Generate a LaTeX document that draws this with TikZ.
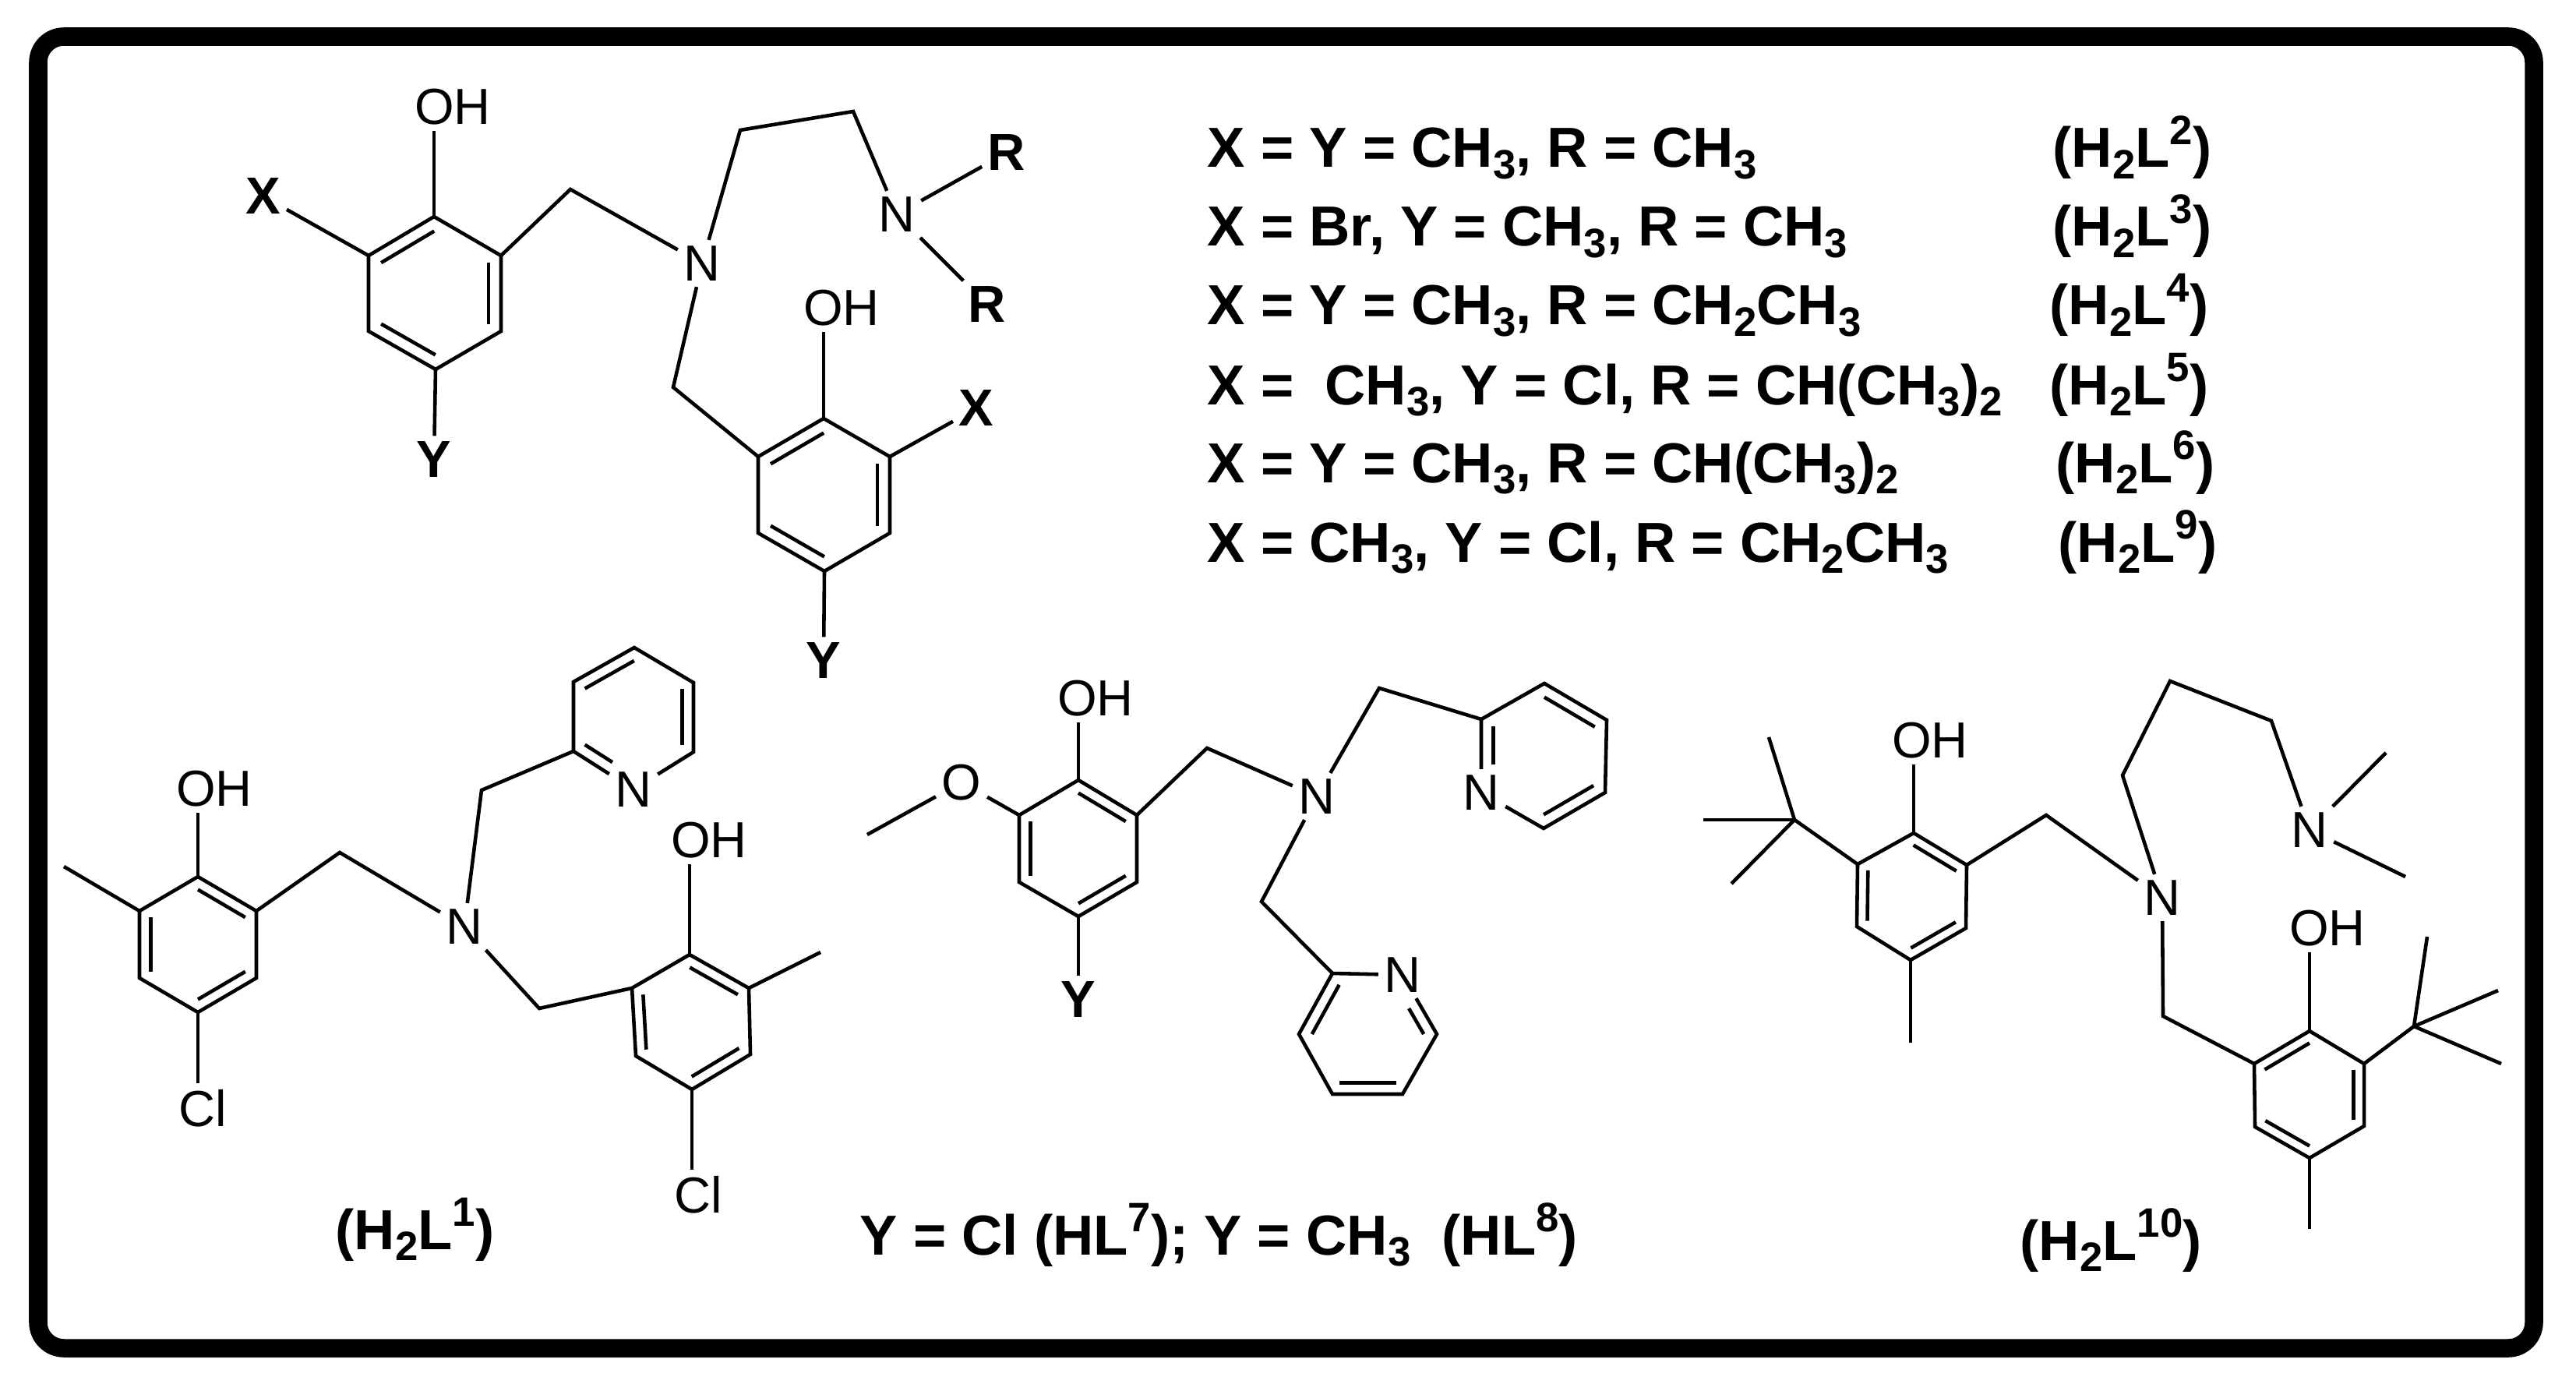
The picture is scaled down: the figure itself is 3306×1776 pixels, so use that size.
\documentclass[tikz,border=0pt]{standalone}
\usepackage{fontspec}
\setmainfont{Liberation Sans}
\usetikzlibrary{calc}

\newcommand{\lo}[1]{\raisebox{-4.2pt}{\fontsize{15}{15}\selectfont #1}}
\newcommand{\hi}[1]{\raisebox{8.4pt}{\fontsize{15}{15}\selectfont #1}}
\newcommand{\dbl}[4][]{\draw[bond,#1] ($(#2)!.19!(#4)$) -- ($(#3)!.19!(#4)$);}

\begin{document}
\begin{tikzpicture}
	[x=.01cm,y=-.01cm,
	bond/.style={line width=1.3pt,line join=miter},
	atom/.style={inner sep=2pt,font=\fontsize{18.5}{18.5}\selectfont},
	sub/.style={inner sep=2pt,font=\fontsize{19}{19}\selectfont\bfseries},
	listtext/.style={anchor=base west,inner sep=0pt,font=\fontsize{20.6}{20.6}\selectfont\bfseries}]
	\useasboundingbox (0,0) rectangle (3306,1776);
	\draw[line width=.235cm,rounded corners=.33cm] (49,47) rectangle (3252,1730);
	
	% top structure
	\coordinate (a1) at (557,278); \coordinate (a2) at (643,328); \coordinate (a3) at (643,425);
	\coordinate (a4) at (559,474); \coordinate (a5) at (473,425); \coordinate (a6) at (473,328);
	\coordinate (ac) at ($(a1)!.5!(a4)$);
	\coordinate (b1) at (1057,537); \coordinate (b2) at (1142,586); \coordinate (b3) at (1142,684);
	\coordinate (b4) at (1058,733); \coordinate (b5) at (973,684); \coordinate (b6) at (973,586);
	\coordinate (bc) at ($(b1)!.5!(b4)$);
	\coordinate (t1) at (732,243);
	\coordinate (t2) at (950,167);
	\coordinate (t3) at (1095,143);
	\coordinate (t4) at (864,497);
	\node[atom] (oha) at (581,137) {OH};
	\node[atom] (ohb) at (1080,395) {OH};
	\node[atom] (na) at (901,338) {N};
	\node[atom] (nb) at (1151,275) {N};
	\node[sub] (xa) at (338,252) {X};
	\node[sub] (xb) at (1253,524) {X};
	\node[sub] (ya) at (557,590) {Y};
	\node[sub] (yb) at (1057,848) {Y};
	\node[sub] (ra) at (1292,196) {R};
	\node[sub] (rb) at (1267,391) {R};
	
	\draw[bond] (a1) -- (a2) -- (a3) -- (a4) -- (a5) -- (a6) -- cycle;
	\draw[bond] (b1) -- (b2) -- (b3) -- (b4) -- (b5) -- (b6) -- cycle;
	\dbl{a1}{a6}{ac}
	\dbl{a2}{a3}{ac}
	\dbl{a4}{a5}{ac}
	\dbl{b1}{b6}{bc}
	\dbl{b2}{b3}{bc}
	\dbl{b4}{b5}{bc}
	\draw[bond] (a1) -- (a1 |- oha.south);
	\draw[bond] (b1) -- (b1 |- ohb.south);
	\draw[bond] (a6) -- (xa);
	\draw[bond] (b2) -- (xb);
	\draw[bond] (a4) -- (ya);
	\draw[bond] (b4) -- (yb);
	\draw[bond] (a2) -- (t1) -- (na);
	\draw[bond] (na) -- (t2) -- (t3) -- (nb);
	\draw[bond] (na) -- (t4) -- (b6);
	\draw[bond] (nb) -- (ra);
	\draw[bond] (nb) -- (rb);
	
	% list
	\node[listtext] (la) at (1549,215) {X = Y = CH\lo{3}, R = CH\lo{3}};
	\node[listtext] (lb) at (1549,316) {X = Br, Y = CH\lo{3}, R = CH\lo{3}};
	\node[listtext] (lc) at (1549,417) {X = Y = CH\lo{3}, R = CH\lo{2}CH\lo{3}};
	\node[listtext] (ld) at (1549,519) {X = \ CH\lo{3}, Y = Cl, R = CH(CH\lo{3})\lo{2}};
	\node[listtext] (le) at (1549,619) {X = Y = CH\lo{3}, R = CH(CH\lo{3})\lo{2}};
	\node[listtext] (lf) at (1549,721) {X = CH\lo{3}, Y = Cl, R = CH\lo{2}CH\lo{3}};
	\node[listtext] (ma) at (2634,215) {(H\lo{2}L\hi{2})};
	\node[listtext] (mb) at (2634,316) {(H\lo{2}L\hi{3})};
	\node[listtext] (mc) at (2630,417) {(H\lo{2}L\hi{4})};
	\node[listtext] (md) at (2630,519) {(H\lo{2}L\hi{5})};
	\node[listtext] (me) at (2638,619) {(H\lo{2}L\hi{6})};
	\node[listtext] (mf) at (2641,721) {(H\lo{2}L\hi{9})};
	
	% left structure
	\coordinate (c1) at (254,1125); \coordinate (c2) at (329,1169); \coordinate (c3) at (329,1255);
	\coordinate (c4) at (254,1299); \coordinate (c5) at (179,1255); \coordinate (c6) at (179,1169);
	\coordinate (cc) at ($(c1)!.5!(c4)$);
	\coordinate (d1) at (885,1225); \coordinate (d2) at (961,1268); \coordinate (d3) at (963,1353);
	\coordinate (d4) at (888,1398); \coordinate (d5) at (816,1355); \coordinate (d6) at (811,1268);
	\coordinate (dc) at ($(d1)!.5!(d4)$);
	\coordinate (e1) at (736,964); \coordinate (e2) at (736,875); \coordinate (e3) at (814,831);
	\coordinate (e4) at (890,876); \coordinate (e5) at (890,965);
	\coordinate (ec) at ($(e2)!.5!(e5)$);
	\coordinate (u1) at (436,1094);
	\coordinate (u2) at (618,1014);
	\coordinate (u3) at (692,1294);
	\coordinate (u4) at (82,1112);
	\coordinate (u5) at (1053,1222);
	\node[atom] (ohc) at (275,1012) {OH};
	\node[atom] (ohd) at (910,1078) {OH};
	\node[atom] (nc) at (596,1189) {N};
	\node[atom] (ne) at (813,1013) {N};
	\node[atom] (cla) at (260,1422) {Cl};
	\node[atom] (clb) at (896,1533) {Cl};
	\node[listtext] (lg) at (430,1603) {(H\lo{2}L\hi{1})};
	
	\draw[bond] (c1) -- (c2) -- (c3) -- (c4) -- (c5) -- (c6) -- cycle;
	\draw[bond] (d1) -- (d2) -- (d3) -- (d4) -- (d5) -- (d6) -- cycle;
	\draw[bond] (ne) -- (e1) -- (e2) -- (e3) -- (e4) -- (e5) -- (ne);
	\dbl{c1}{c2}{cc}
	\dbl{c5}{c6}{cc}
	\dbl{c3}{c4}{cc}
	\dbl{d1}{d2}{dc}
	\dbl{d3}{d4}{dc}
	\dbl{d5}{d6}{dc}
	\dbl{e2}{e3}{ec}
	\dbl{e4}{e5}{ec}
	\dbl[shorten >=.32cm]{e1}{ne}{ec}
	\draw[bond] (c1) -- (c1 |- ohc.south);
	\draw[bond] (d1) -- (d1 |- ohd.south);
	\draw[bond] (c4) -- (c4 |- cla.north);
	\draw[bond] (d4) -- (d4 |- clb.north);
	\draw[bond] (c6) -- (u4);
	\draw[bond] (d2) -- (u5);
	\draw[bond] (c2) -- (u1) -- (nc);
	\draw[bond] (nc) -- (u2) -- (e1);
	\draw[bond] (nc) -- (u3) -- (d6);
	
	% middle structure
	\coordinate (f1) at (1384,1001); \coordinate (f2) at (1459,1046); \coordinate (f3) at (1459,1132);
	\coordinate (f4) at (1384,1176); \coordinate (f5) at (1308,1132); \coordinate (f6) at (1308,1046);
	\coordinate (fc) at ($(f1)!.5!(f4)$);
	\coordinate (g1) at (1901,923); \coordinate (g2) at (1982,877); \coordinate (g3) at (2062,924);
	\coordinate (g4) at (2060,1017); \coordinate (g5) at (1981,1063);
	\coordinate (gc) at ($(g2)!.5!(g5)$);
	\coordinate (h1) at (1710,1249); \coordinate (h2) at (1844,1327); \coordinate (h3) at (1800,1404);
	\coordinate (h4) at (1710,1404); \coordinate (h5) at (1667,1327);
	\coordinate (hc) at ($(h2)!.5!(h5)$);
	\coordinate (v1) at (1549,960);
	\coordinate (v2) at (1770,883);
	\coordinate (v3) at (1619,1157);
	\coordinate (v4) at (1113,1071);
	\node[atom] (ohe) at (1406,896) {OH};
	\node[atom] (oa) at (1234,1004) {O};
	\node[atom] (nf) at (1690,1022) {N};
	\node[atom] (ng) at (1901,1017) {N};
	\node[atom] (nh) at (1800,1251) {N};
	\node[sub] (yc) at (1384,1283) {Y};
	\node[listtext] (lh) at (1103,1610) {Y = Cl (HL\hi{7}); Y = CH\lo{3}\ \ (HL\hi{8})};
	
	\draw[bond] (f1) -- (f2) -- (f3) -- (f4) -- (f5) -- (f6) -- cycle;
	\draw[bond] (g1) -- (g2) -- (g3) -- (g4) -- (g5) -- (ng) -- (g1);
	\draw[bond] (nh) -- (h1) -- (h5) -- (h4) -- (h3) -- (h2) -- (nh);
	\dbl{f1}{f2}{fc}
	\dbl{f5}{f6}{fc}
	\dbl{f3}{f4}{fc}
	\dbl{g2}{g3}{gc}
	\dbl{g4}{g5}{gc}
	\dbl[shorten >=.27cm]{g1}{ng}{gc}
	\dbl{h3}{h4}{hc}
	\dbl{h1}{h5}{hc}
	\dbl[shorten <=.33cm]{nh}{h2}{hc}
	\draw[bond] (f1) -- (f1 |- ohe.south);
	\draw[bond] (f4) -- (yc);
	\draw[bond] (f6) -- (oa) -- (v4);
	\draw[bond] (f2) -- (v1) -- (nf);
	\draw[bond] (nf) -- (v2) -- (g1);
	\draw[bond] (nf) -- (v3) -- (h1);
	
	% right structure
	\coordinate (i1) at (2456,1069); \coordinate (i2) at (2524,1110); \coordinate (i3) at (2523,1191);
	\coordinate (i4) at (2452,1232); \coordinate (i5) at (2383,1189); \coordinate (i6) at (2384,1109);
	\coordinate (ic) at ($(i1)!.5!(i4)$);
	\coordinate (j1) at (2964,1323); \coordinate (j2) at (3034,1365); \coordinate (j3) at (3034,1445);
	\coordinate (j4) at (2964,1486); \coordinate (j5) at (2894,1446); \coordinate (j6) at (2893,1365);
	\coordinate (jc) at ($(j1)!.5!(j4)$);
	\coordinate (w1) at (2626,1046);
	\coordinate (w2) at (2724,995);
	\coordinate (w3) at (2785,874);
	\coordinate (w4) at (2915,925);
	\coordinate (w5) at (2776,1304);
	\coordinate (w6) at (3062,966);
	\coordinate (w7) at (3087,1125);
	\coordinate (ta) at (2303,1052);
	\coordinate (ta1) at (2270,946);
	\coordinate (ta2) at (2186,1052);
	\coordinate (ta3) at (2222,1134);
	\coordinate (tb) at (3098,1317);
	\coordinate (tb1) at (3115,1202);
	\coordinate (tb2) at (3206,1271);
	\coordinate (tb3) at (3210,1365);
	\coordinate (mea) at (2452,1338);
	\coordinate (meb) at (2964,1577);
	\node[atom] (ohf) at (2477,950) {OH};
	\node[atom] (ohg) at (2987,1191) {OH};
	\node[atom] (ni) at (2775,1152) {N};
	\node[atom] (nj) at (2964,1065) {N};
	\node[listtext] (li) at (2592,1617) {(H\lo{2}L\hi{10})};
	
	\draw[bond] (i1) -- (i2) -- (i3) -- (i4) -- (i5) -- (i6) -- cycle;
	\draw[bond] (j1) -- (j2) -- (j3) -- (j4) -- (j5) -- (j6) -- cycle;
	\dbl{i1}{i2}{ic}
	\dbl{i5}{i6}{ic}
	\dbl{i3}{i4}{ic}
	\dbl{j1}{j6}{jc}
	\dbl{j2}{j3}{jc}
	\dbl{j4}{j5}{jc}
	\draw[bond] (i1) -- (i1 |- ohf.south);
	\draw[bond] (j1) -- (j1 |- ohg.south);
	\draw[bond] (i4) -- (mea);
	\draw[bond] (j4) -- (meb);
	\draw[bond] (i6) -- (ta);
	\draw[bond] (ta) -- (ta1);
	\draw[bond] (ta) -- (ta2);
	\draw[bond] (ta) -- (ta3);
	\draw[bond] (j2) -- (tb);
	\draw[bond] (tb) -- (tb1);
	\draw[bond] (tb) -- (tb2);
	\draw[bond] (tb) -- (tb3);
	\draw[bond] (i2) -- (w1) -- (ni);
	\draw[bond] (ni) -- (w2) -- (w3) -- (w4) -- (nj);
	\draw[bond] (ni) -- (w5) -- (j6);
	\draw[bond] (nj) -- (w6);
	\draw[bond] (nj) -- (w7);
\end{tikzpicture}
\end{document}
